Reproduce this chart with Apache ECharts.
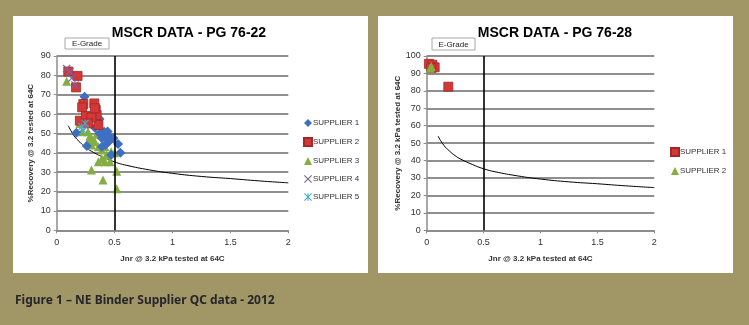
<!DOCTYPE html>
<html>
<head>
<meta charset="utf-8">
<script src="https://cdn.jsdelivr.net/npm/echarts@6/dist/echarts.min.js"></script>
<style>
html,body{margin:0;padding:0;background:#a19665;}
#chart{width:749px;height:325px;}
</style>
</head>
<body>
<div id="chart"></div>
<script>
// ---------- data ----------
const xTicks = [0, 0.5, 1, 1.5, 2];
// PG 76-22 panel
const left_supplier1 = [[0.24,69],[0.17,50.4],[0.37,57.5],[0.33,53],[0.37,50],[0.39,47.5],[0.42,48.3],[0.445,49.2],[0.45,45.7],[0.49,47.5],[0.42,44],[0.39,43.2],[0.26,43.5],[0.53,44.5],[0.55,40],[0.47,38.9],[0.44,51],[0.41,50.9]];
const left_supplier2 = [[0.1,82],[0.18,79.7],[0.167,73.8],[0.23,65.2],[0.22,63.5],[0.325,65.5],[0.337,62.1],[0.345,59.5],[0.2,56.6],[0.264,57.8],[0.253,59],[0.36,54.4],[0.3,58.3],[0.27,55.2],[0.33,63]];
const left_supplier3 = [[0.086,77],[0.2,55.2],[0.216,50.9],[0.27,50.9],[0.287,48.7],[0.345,49.6],[0.3,47.5],[0.33,45.7],[0.27,45.7],[0.3,44],[0.36,43.2],[0.417,43.2],[0.39,41.5],[0.47,40.6],[0.43,38.9],[0.36,35.4],[0.417,35.4],[0.46,35.4],[0.3,31.1],[0.4,26],[0.518,30.5],[0.518,21.5],[0.39,37],[0.5,40]];
const left_supplier4 = [[0.086,83.5],[0.115,81.9],[0.13,78.5],[0.158,75]];
const left_supplier5 = [[0.216,53.5],[0.245,55.2],[0.23,51.5]];
// PG 76-28 panel
const right_supplier1 = [[0.02,95.5],[0.05,95],[0.07,93.5],[0.04,93],[0.19,82.4]];
const right_supplier2 = [[0.03,93],[0.04,94]];
// E-Grade limit curve
const egradeX = [0.1,0.15,0.2,0.25,0.3,0.4,0.5,0.6,0.8,1.0,1.25,1.5,1.75,2.0];
const egradeY = [54,48.8,45.5,42.8,40.8,37.8,35.3,33.6,31.2,29.4,27.8,26.7,25.5,24.5];
const jnrLimit = 0.5;

const legendLeft = ['SUPPLIER 1','SUPPLIER 2','SUPPLIER 3','SUPPLIER 4','SUPPLIER 5'];
const legendRight = ['SUPPLIER 1','SUPPLIER 2'];

// ---------- styles ----------
const FONT = 'Liberation Sans';
const C_BLUE = '#3e6fc2', C_RED = '#d33838', C_GREEN = '#84ae42', C_PURPLE = '#7e62a2', C_CYAN = '#4aaac8';
const X_PATH = 'path://M0,1 L1,0 L5,4 L9,0 L10,1 L6,5 L10,9 L9,10 L5,6 L1,10 L0,9 L4,5 Z';
const STAR_PATH = 'path://M0,1 L1,0 L5,4 L9,0 L10,1 L6,5 L10,9 L9,10 L5,6 L1,10 L0,9 L4,5 Z M4.4,0 L5.6,0 L5.6,10 L4.4,10 Z';

const curve = egradeX.map((x,i)=>[x, egradeY[i]]);

function xAxisCfg(gi){
  return {
    gridIndex: gi, type:'value', min:0, max:2, interval:0.5,
    name:'Jnr @ 3.2 kPa tested at 64C', nameLocation:'middle', nameGap:24,
    nameTextStyle:{fontFamily:FONT, fontSize:8, fontWeight:'bold', color:'#333'},
    axisLine:{show:true, onZero:false, lineStyle:{color:'#8c8c8c', width:1.5}},
    axisTick:{show:true, length:3, lineStyle:{color:'#8c8c8c'}},
    axisLabel:{fontFamily:FONT, fontSize:9, color:'#333', margin:8,
      formatter: v => xTicks.includes(v) ? String(v) : ''},
    splitLine:{show:false}
  };
}
function yAxisCfg(gi, max, name){
  return {
    gridIndex: gi, type:'value', min:0, max:max, interval:10,
    name:name, nameLocation:'middle', nameGap:22, nameRotate:90,
    nameTextStyle:{fontFamily:FONT, fontSize:8, fontWeight:'bold', color:'#333'},
    axisLine:{show:true, lineStyle:{color:'#8c8c8c', width:1.5}},
    axisTick:{show:true, length:3, lineStyle:{color:'#8c8c8c'}},
    axisLabel:{fontFamily:FONT, fontSize:9, color:'#333', margin:6},
    splitLine:{show:true, lineStyle:{color:'#8f8f8f', width:2}}
  };
}
function scatter(name, data, gi, symbol, size, color, border){
  return {
    type:'scatter', name:name, xAxisIndex:gi, yAxisIndex:gi, data:data,
    symbol:symbol, symbolSize:size,
    itemStyle:{color:color, borderColor:border || color, borderWidth: border ? 0.8 : 0, opacity:1},
    emphasis:{disabled:true}, silent:true
  };
}
function limitSeries(gi, name){
  return {
    type:'line', name:name, xAxisIndex:gi, yAxisIndex:gi, data:curve,
    smooth:true, showSymbol:false, symbol:'none',
    lineStyle:{color:'#000', width:1}, silent:true, z:1,
    markLine:{symbol:'none', silent:true, label:{show:false},
      lineStyle:{color:'#000', width:1.6, type:'solid'},
      data:[{xAxis:jnrLimit}]}
  };
}

const legendText = {fontFamily:FONT, fontSize:8, color:'#333', padding:[0,0,0,-4]};

const chart = echarts.init(document.getElementById('chart'), null, {renderer:'canvas'});
chart.setOption({
  backgroundColor:'#a19665',
  animation:false,
  grid:[
    {left:56.7, top:56, width:231.6, height:174.3, containLabel:false},
    {left:426.7, top:56, width:227.6, height:174.3, containLabel:false}
  ],
  xAxis:[xAxisCfg(0), xAxisCfg(1)],
  yAxis:[
    yAxisCfg(0, 90, '%Recovery @ 3.2 tested at 64C'),
    yAxisCfg(1, 100, '%Recovery @ 3.2 kPa tested at 64C')
  ],
  legend:[
    {data:legendLeft, orient:'vertical', left:298, top:114, itemGap:10, itemWidth:8, itemHeight:8,
     textStyle:legendText, selectedMode:false},
    {data:legendRight.map(n=>'R|'+n), orient:'vertical', left:665, top:142, itemGap:10, itemWidth:8, itemHeight:8,
     formatter: n => n.replace('R|',''),
     textStyle:legendText, selectedMode:false}
  ],
  series:[
    limitSeries(0,'limitL'),
    scatter('SUPPLIER 3', left_supplier3, 0, 'triangle', 9, C_GREEN),
    scatter('SUPPLIER 1', left_supplier1, 0, 'diamond', 10, C_BLUE),
    scatter('SUPPLIER 2', left_supplier2, 0, 'rect', 9, C_RED, '#a52626'),
    scatter('SUPPLIER 4', left_supplier4, 0, X_PATH, 8, C_PURPLE),
    scatter('SUPPLIER 5', left_supplier5, 0, STAR_PATH, 8, C_CYAN),
    limitSeries(1,'limitR'),
    scatter('R|SUPPLIER 1', right_supplier1, 1, 'rect', 9, C_RED, '#a52626'),
    scatter('R|SUPPLIER 2', right_supplier2, 1, 'triangle', 9, C_GREEN)
  ],
  graphic:[
    {type:'rect', z:-10, shape:{x:13, y:16, width:355, height:257}, style:{fill:'#ffffff'}},
    {type:'rect', z:-10, shape:{x:378, y:16, width:355, height:257}, style:{fill:'#ffffff'}},
    {type:'text', x:189, y:33, style:{text:'MSCR DATA - PG 76-22', font:'bold 14px "Liberation Sans"', fill:'#000', align:'center', verticalAlign:'middle'}},
    {type:'text', x:555, y:33, style:{text:'MSCR DATA - PG 76-28', font:'bold 14px "Liberation Sans"', fill:'#000', align:'center', verticalAlign:'middle'}},
    {type:'rect', shape:{x:65, y:38, width:44, height:11}, style:{fill:'#fff', stroke:'#a8a8a8', lineWidth:1}},
    {type:'text', x:87, y:44, style:{text:'E-Grade', font:'8px "Liberation Sans"', fill:'#222', align:'center', verticalAlign:'middle'}},
    {type:'rect', shape:{x:432, y:38, width:43, height:12}, style:{fill:'#fff', stroke:'#a8a8a8', lineWidth:1}},
    {type:'text', x:453.5, y:44.5, style:{text:'E-Grade', font:'8px "Liberation Sans"', fill:'#222', align:'center', verticalAlign:'middle'}},
    {type:'text', x:15, y:301, style:{text:'Figure 1 \u2013 NE Binder Supplier QC data - 2012', font:'bold 12px "Noto Sans"', fill:'#26262c', align:'left', verticalAlign:'middle'}}
  ]
});
</script>
</body>
</html>
